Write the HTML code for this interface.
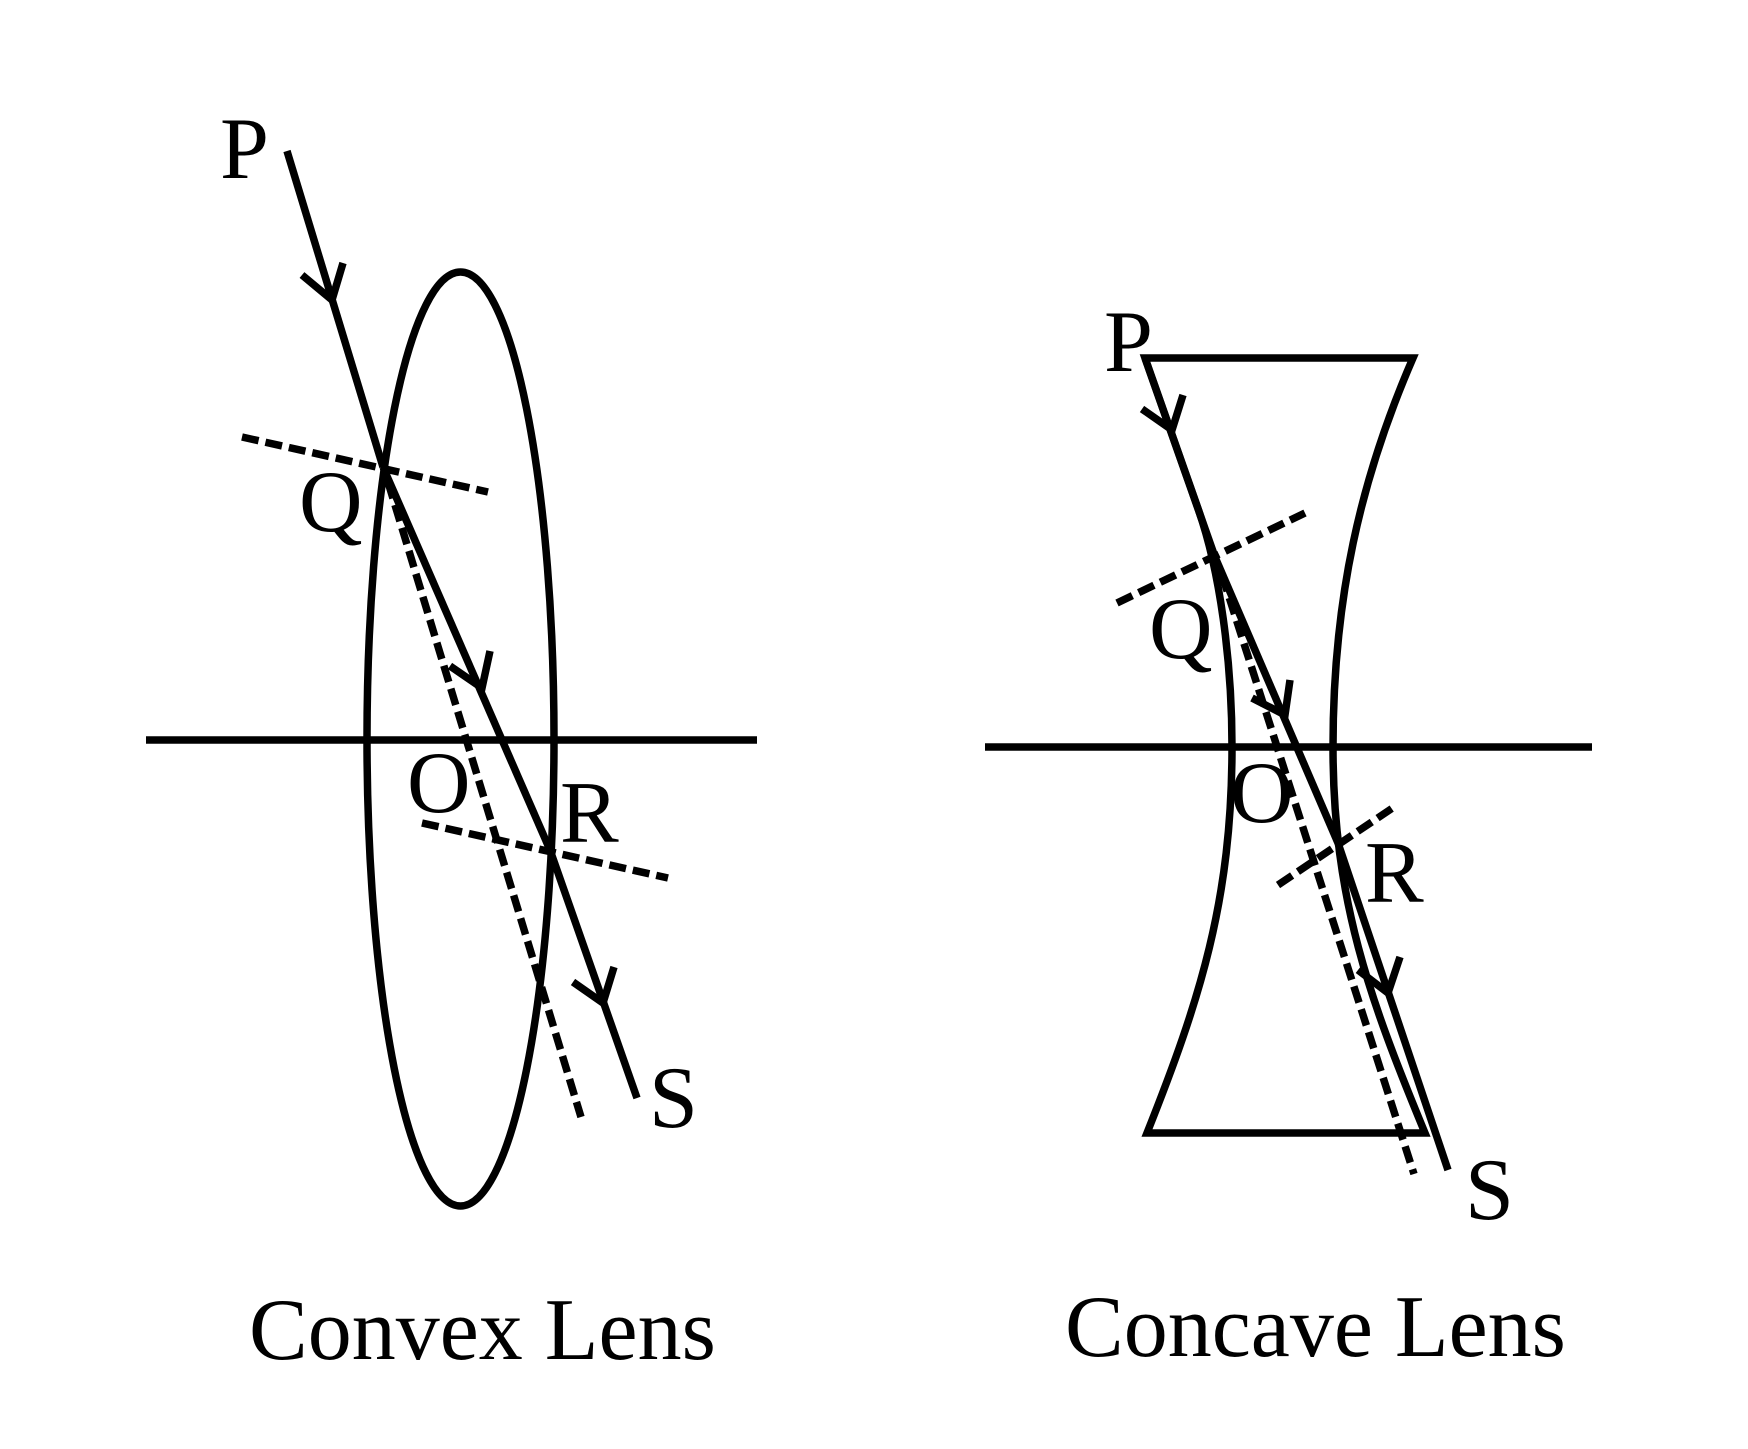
<!DOCTYPE html>
<html>
<head>
<meta charset="utf-8">
<style>
  html, body { margin: 0; padding: 0; background: #fff; }
  svg { display: block; }
  text { font-family: "Liberation Serif", "Times New Roman", serif; font-size: 88px; fill: #000; }
</style>
</head>
<body>
<svg width="1748" height="1449" viewBox="0 0 1748 1449" xmlns="http://www.w3.org/2000/svg">
  <rect width="1748" height="1449" fill="#fff"/>

  <!-- ================= CONVEX LENS ================= -->
  <g fill="none" stroke="#000" stroke-width="7.5">
    <!-- axis -->
    <line x1="146" y1="740" x2="757" y2="740"/>
    <!-- lens -->
    <ellipse cx="460.5" cy="739" rx="93.5" ry="467"/>
    <!-- incident ray P->Q -->
    <line x1="287" y1="151" x2="383" y2="467"/>
    <!-- refracted ray Q->R -->
    <line x1="383" y1="467" x2="550" y2="850"/>
    <!-- emergent ray R->S -->
    <line x1="550" y1="850" x2="637" y2="1098"/>
    <!-- arrowheads -->
    <polyline points="302,275 332,300 343,263" stroke-linejoin="miter"/>
    <polyline points="450,666 482,688 490,651" stroke-linejoin="miter"/>
    <polyline points="573,982 603,1003 614,967" stroke-linejoin="miter"/>
  </g>
  <g fill="none" stroke="#000" stroke-width="7.5" stroke-dasharray="17 7">
    <!-- normal at Q -->
    <line x1="242" y1="437" x2="488" y2="492"/>
    <!-- normal at R -->
    <line x1="422" y1="823" x2="668" y2="878"/>
    <!-- extension of incident ray -->
    <line x1="388" y1="482" x2="581" y2="1117"/>
  </g>
  <text x="220" y="178">P</text>
  <text x="299" y="531">Q</text>
  <text x="407" y="812">O</text>
  <text x="560" y="842">R</text>
  <text x="649" y="1127">S</text>
  <text x="249" y="1359">Convex Lens</text>

  <!-- ================= CONCAVE LENS ================= -->
  <g fill="none" stroke="#000" stroke-width="7.5">
    <!-- axis -->
    <line x1="985" y1="747" x2="1592" y2="747"/>
    <!-- lens outline -->
    <path d="M1145,358 L1413,358
             C1360,480 1333,600 1333,747
             C1333,900 1370,1000 1425,1133
             L1147,1133
             C1200,1000 1232,900 1232,747
             C1232,660 1219.6,570 1198.5,510
             L1145,358 Z" stroke-linejoin="miter"/>
    <!-- incident ray P->Q -->
    <line x1="1145" y1="358" x2="1215" y2="557"/>
    <!-- refracted ray Q->R -->
    <line x1="1215" y1="557" x2="1338" y2="843"/>
    <!-- emergent ray R->S -->
    <line x1="1338" y1="843" x2="1448" y2="1170"/>
    <!-- arrowheads -->
    <polyline points="1142,409 1172,430 1183,395" stroke-linejoin="miter"/>
    <polyline points="1252,698 1285,715 1290,680" stroke-linejoin="miter"/>
    <polyline points="1358,970 1388,993 1400,957" stroke-linejoin="miter"/>
  </g>
  <g fill="none" stroke="#000" stroke-width="7.5" stroke-dasharray="17 7">
    <!-- normal at Q -->
    <line x1="1117" y1="603" x2="1305" y2="513"/>
    <!-- normal at R -->
    <line x1="1278" y1="885" x2="1397" y2="805"/>
    <!-- extension of incident ray -->
    <line x1="1222" y1="575" x2="1414" y2="1174"/>
  </g>
  <text x="1104" y="371">P</text>
  <text x="1149" y="658">Q</text>
  <text x="1230" y="822">O</text>
  <text x="1365" y="902">R</text>
  <text x="1465" y="1219">S</text>
  <text x="1065" y="1356">Concave Lens</text>
</svg>
</body>
</html>
